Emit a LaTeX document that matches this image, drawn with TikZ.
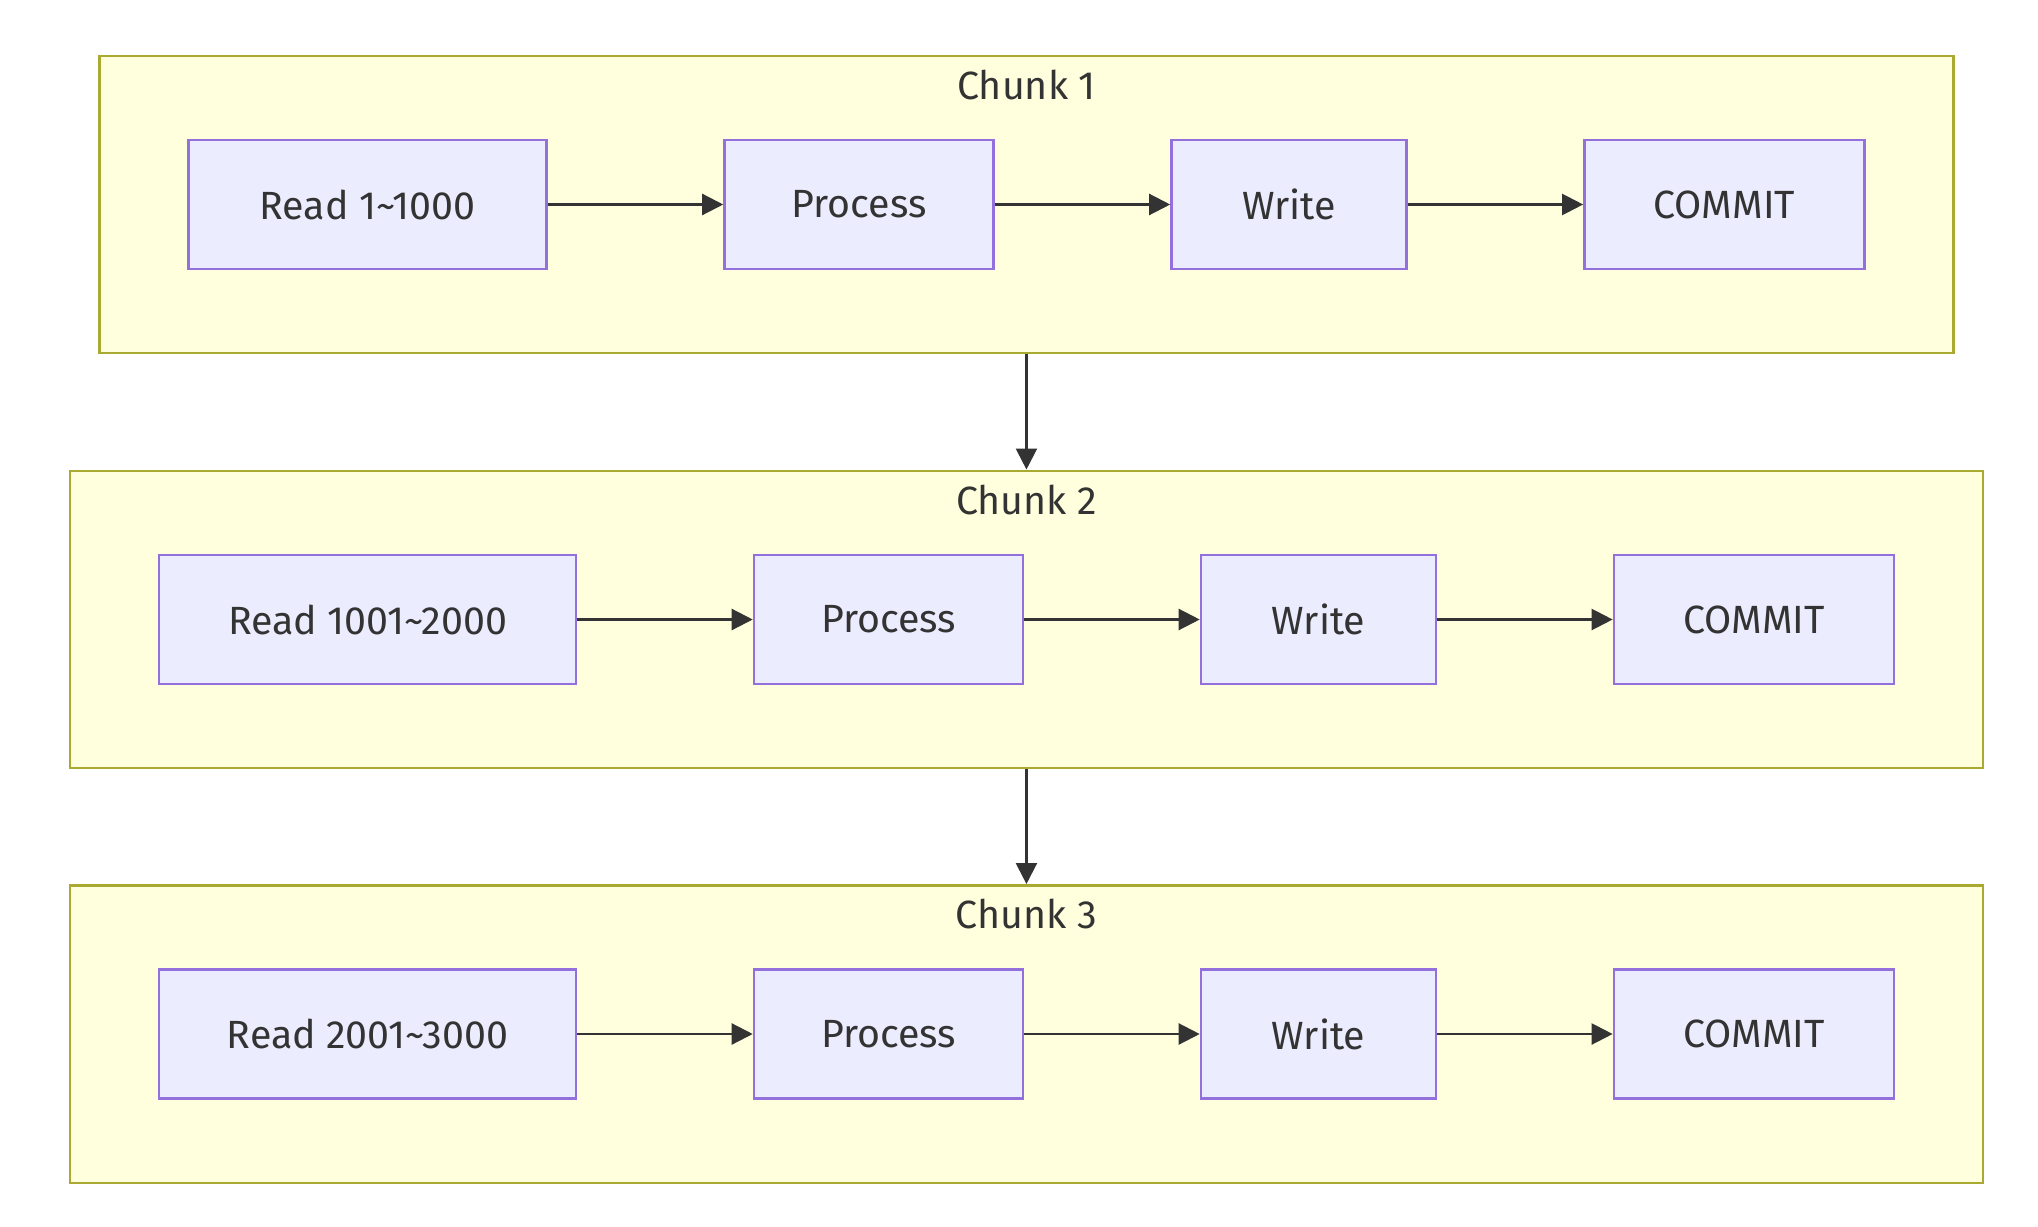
\documentclass[tikz,border=0pt]{standalone}
\usepackage{fontspec}
\setmainfont{Fira Sans}
\usepackage{tikz}
\usetikzlibrary{arrows.meta,positioning,fit,backgrounds}
\definecolor{stepfill}{HTML}{ECECFF}
\definecolor{stepdraw}{HTML}{9370DB}
\definecolor{chunkfill}{HTML}{FFFFDE}
\definecolor{chunkdraw}{HTML}{AAAA33}
\definecolor{inkgray}{HTML}{333333}

\begin{document}
\begin{tikzpicture}[node distance=1.755cm, every node/.style={font=\fontsize{11.2}{13}\selectfont, text=inkgray}]

    % Styles for steps and chunks
    \tikzset{
        stepbox/.style={draw=stepdraw, fill=stepfill, line width=0.7pt, minimum height=1.29cm, inner sep=0pt, align=center},
        chunkbox/.style={draw=chunkdraw, fill=chunkfill, line width=0.7pt, inner xsep=0.88cm, inner ysep=0.83cm},
        chunktitle/.style={anchor=center, inner sep=0pt},
        arrow/.style={-{Triangle[length=0.21cm, width=0.21cm]}, inkgray, line width=0.65pt}
    }

    \useasboundingbox (0,0) rectangle (20.38,-12.27);

    % Chunk 1
    \node[stepbox, minimum width=3.58cm] (read1) at (3.675,-2.045) {Read 1\textasciitilde1000};
    \node[stepbox, minimum width=2.69cm, right=of read1] (process1) {Process};
    \node[stepbox, minimum width=2.35cm, right=of process1] (write1) {Write};
    \node[stepbox, minimum width=2.80cm, right=of write1] (commit1) {COMMIT};

    % Chunk 2
    \node[stepbox, minimum width=4.17cm] (read2) at (3.675,-6.195) {Read 1001\textasciitilde2000};
    \node[stepbox, minimum width=2.69cm, right=of read2] (process2) {Process};
    \node[stepbox, minimum width=2.35cm, right=of process2] (write2) {Write};
    \node[stepbox, minimum width=2.80cm, right=of write2] (commit2) {COMMIT};

    % Chunk 3
    \node[stepbox, minimum width=4.17cm] (read3) at (3.675,-10.34) {Read 2001\textasciitilde3000};
    \node[stepbox, minimum width=2.69cm, right=of read3] (process3) {Process};
    \node[stepbox, minimum width=2.35cm, right=of process3] (write3) {Write};
    \node[stepbox, minimum width=2.80cm, right=of write3] (commit3) {COMMIT};

    % Chunk frames behind the steps
    \begin{scope}[on background layer]
        \node[chunkbox, fit=(read1)(commit1)] (chunk1) {};
        \node[chunkbox, fit=(read2)(commit2)] (chunk2) {};
        \node[chunkbox, fit=(read3)(commit3)] (chunk3) {};
    \end{scope}

    \node[chunktitle] (title1) at ([yshift=-0.30cm]chunk1.north) {Chunk 1};
    \node[chunktitle] (title2) at ([yshift=-0.30cm]chunk2.north) {Chunk 2};
    \node[chunktitle] (title3) at ([yshift=-0.30cm]chunk3.north) {Chunk 3};

    % Arrows inside each chunk
    \foreach \r in {1,2,3} {
        \draw[arrow] (read\r) -- (process\r);
        \draw[arrow] (process\r) -- (write\r);
        \draw[arrow] (write\r) -- (commit\r);
    }

    % Arrows between chunks
    \draw[arrow] (chunk1) -- (chunk2);
    \draw[arrow] (chunk2) -- (chunk3);

\end{tikzpicture}
\end{document}
